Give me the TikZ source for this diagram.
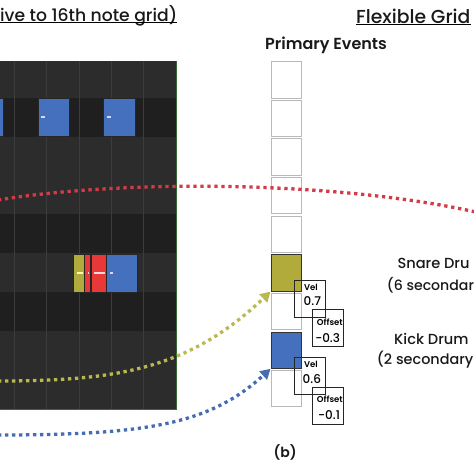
\documentclass[tikz,border=0pt]{standalone}
\usepackage{fontspec}
\setmainfont{Poppins}
\newfontfamily\moyen{Poppins Medium}
\newfontfamily\demi{Poppins SemiBold}
\usetikzlibrary{arrows.meta,calc}
\definecolor{rowlight}{RGB}{44,44,44}
\definecolor{rowdark}{RGB}{31,31,31}
\definecolor{beatline}{RGB}{60,60,60}
\definecolor{gridedge}{RGB}{52,105,52}
\definecolor{noteblue}{RGB}{68,112,190}
\definecolor{snareolive}{RGB}{176,171,58}
\definecolor{snarered}{RGB}{232,56,56}
\definecolor{reddots}{RGB}{212,58,72}
\definecolor{olivedots}{RGB}{186,184,78}
\definecolor{bluedots}{RGB}{70,108,178}
\newcommand{\taille}[1]{\fontsize{#1}{#1}\selectfont}

\begin{document}
\begin{tikzpicture}[x=1pt,y=-1pt,
  slot/.style={draw=gray!55,line width=1pt,fill=white,minimum width=30pt,minimum height=36.3pt,inner sep=0pt},
  snareslot/.style={slot,fill=snareolive,draw=black!80},
  kickslot/.style={slot,fill=noteblue,draw=black!80},
  sec/.style={draw=black!85,line width=0.7pt,minimum width=30.7pt,minimum height=37pt,inner sep=0pt},
  note/.style={draw=black!85,line width=0.8pt},
  dots/.style={line width=3.3pt,dash pattern=on 3.3pt off 3.7pt},
  tip/.style={-{Triangle[length=10pt,width=11pt]}},
  lbl/.style={inner sep=0pt,anchor=base west,text=black!90},
  tiny/.style={inner sep=0pt,anchor=east,font=\demi\taille{8.5}},
  val/.style={inner sep=0pt,anchor=east,font=\moyen\taille{12}}]
\useasboundingbox (0,0) rectangle (474,474);

% grille fixe (a)
\fill[rowlight] (0,61) rectangle (176,409);
\foreach \r in {1,4,6}
  \fill[rowdark] (0,{59.2+38.8*\r}) rectangle (176,{59.2+38.8*(\r+1)});
\foreach \x in {14,46.6,79.2,111.4,143.6}
  \draw[beatline,line width=0.8pt] (\x,61) -- (\x,409);
\draw[gridedge,line width=0.8pt] (0,409) -- (176,409) -- (176,61);

% notes
\foreach \a/\b in {-3/3,38.3/69,103.3/135}
  \draw[note,fill=noteblue] (\a,98) rectangle (\b,136.7);
\fill[blue!15] (41,115.8) rectangle (45,117.8);
\fill[blue!15] (106.5,115.8) rectangle (110.5,117.8);
\draw[note,fill=snareolive] (73.3,254) rectangle (84,292);
\draw[note,fill=snarered] (84,254) rectangle (90.7,292);
\draw[note,fill=snarered] (91.3,254) rectangle (106,292);
\draw[note,fill=noteblue] (106.7,254) rectangle (137.3,292);
\fill[yellow!30] (77.3,271.8) rectangle (83.3,273.6);
\fill[red!15] (88,271.8) rectangle (89.4,273.6);
\fill[red!15] (94.3,271.8) rectangle (105,273.6);
\fill[blue!15] (110,271.8) rectangle (113.3,273.6);

% grille flexible (b)
\foreach \i/\s in {1/slot,2/slot,3/slot,4/slot,5/slot,6/snareslot,7/slot,8/kickslot,9/slot}
  \node[\s] (p\i) at (286,{79.85+38.62*(\i-1)}) {};

\foreach \p/\v/\o in {6/0.7/-0.3,8/0.6/-0.1}{
  \node[sec,anchor=north west] (vel\p) at ($(p\p.south east)+(-7.7,-12)$) {};
  \node[sec,anchor=north west] (off\p) at ($(vel\p.south east)+(-13,-8)$) {};
  \node[tiny] (velname\p) at ($(vel\p.north east)+(-7.3,7.4)$) {Vel};
  \node[val] (velval\p) at ($(vel\p.north east)+(-4,21.9)$) {\v};
  \node[tiny] (offname\p) at ($(off\p.north east)+(-0.7,13)$) {Offset};
  \node[val] (offval\p) at ($(off\p.north east)+(-3.4,29)$) {\o};
}

% liens
\coordinate (redfrom) at (-2,200);
\coordinate (redto) at (476,212);
\draw[dots,reddots] (redfrom) .. controls (120,180) and (330,180) .. (redto);
\coordinate (snarefrom) at (-2,381);
\draw[dots,olivedots,tip] (snarefrom) .. controls (118,381) and (189,369) .. (p6.south west);
\coordinate (kickfrom) at (-2,435);
\draw[dots,bluedots,tip] (kickfrom) .. controls (148,435) and (210,424) .. (p8.south west);

% textes
\node[lbl,font=\moyen\taille{17.2}] (fixtitle) at (0,21) {ive to 16th note grid)};
\draw[line width=1.2pt] ([yshift=-1.7pt]fixtitle.base west) -- ([yshift=-1.7pt]fixtitle.base east);
\node[lbl,font=\moyen\taille{18.8}] (flextitle) at (356,23.3) {Flexible Grid};
\draw[line width=1.2pt] ([yshift=-1.4pt]flextitle.base west) -- ([yshift=-1.4pt]flextitle.base east);
\node[lbl,font=\demi\taille{16}] (primtitle) at (265,49.3) {Primary Events};
\node[lbl,font=\moyen\taille{14.6}] (snarelbl) at (397.3,268) {Snare Dru};
\node[lbl,font=\moyen\taille{14.1}] (snarecount) at (386.7,290) {(6 secondar};
\node[lbl,font=\moyen\taille{14.6}] (kicklbl) at (394,344.3) {Kick Drum};
\node[lbl,font=\moyen\taille{14.4}] (kickcount) at (376.7,364) {(2 secondary};
\node[lbl,font=\demi\taille{14}] (sublbl) at (273.3,457.3) {(b)};
\end{tikzpicture}
\end{document}
